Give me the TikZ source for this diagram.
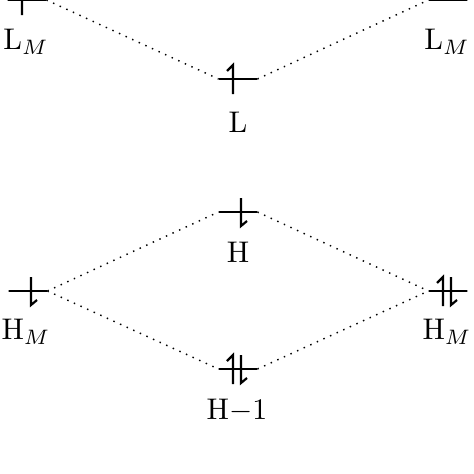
\documentclass[tikz,border=0pt]{standalone}
\newcommand\upspin[1]{\draw[spin] ([shift={(-5,15)}]#1) -- ++(0,-29) -- ++(-6,6);}
\newcommand\dnspin[1]{\draw[spin] ([shift={(3,-14)}]#1) -- ++(0,28) -- ++(6,-5);}
\begin{document}
\begin{tikzpicture}[x=0.345pt,y=-0.345pt,
  level/.style={draw, line width=0.5pt, minimum width=13.45pt, minimum height=0pt, inner sep=0pt, outer sep=0pt},
  conn/.style={dotted, line width=0.5pt},
  spin/.style={line width=0.75pt},
  lab/.style={inner sep=0pt, scale=1.03}]
\useasboundingbox (0,0) rectangle (474,474);
\clip (0,0) rectangle (474,474);
% levels
\node[level] (LMl) at (27,0) {};
\node[level] (LMr) at (448,0) {};
\node[level] (L) at (238,79) {};
\node[level] (H) at (238,212) {};
\node[level] (HMl) at (28,291) {};
\node[level] (HMr) at (448,291) {};
\node[level] (H1) at (238,369) {};
% spins
\upspin{LMl.center}
\upspin{L.center}
\dnspin{H.center}
\dnspin{HMl.center}
\upspin{HMr.center}
\dnspin{HMr.center}
\upspin{H1.center}
\dnspin{H1.center}
% labels
\node[lab] (tLMl) at (26,42) {L$_M$};
\node[lab] (tLMr) at (447,42) {L$_M$};
\node[lab] (tL) at (238,122) {L};
\node[lab] (tH) at (238,252) {H};
\node[lab] (tHMl) at (26,332) {H$_M$};
\node[lab] (tHMr) at (447,332) {H$_M$};
\node[lab] (tH1) at (237,411) {H$-$1};
% connectors
\draw[conn] (LMl.east) -- (L.west);
\draw[conn] (L.east) -- (LMr.west);
\draw[conn] (HMl.east) -- (H.west);
\draw[conn] (HMl.east) -- (H1.west);
\draw[conn] (H.east) -- (HMr.west);
\draw[conn] (H1.east) -- (HMr.west);
\end{tikzpicture}
\end{document}
